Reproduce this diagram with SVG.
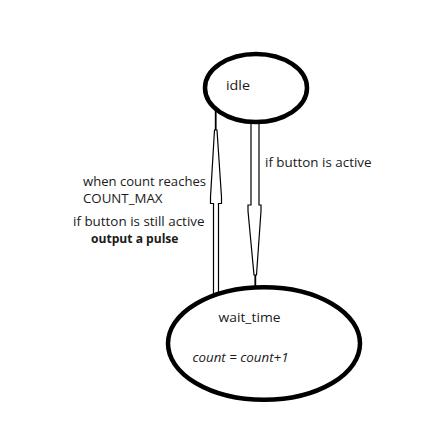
<svg xmlns="http://www.w3.org/2000/svg" width="421" height="430" viewBox="0 0 421 430">
<style>
text{font-family:"Open Sans","Noto Sans","Liberation Sans",sans-serif;font-size:13px;fill:#1a1a1a}
.state{fill:#fff;stroke:#000;stroke-width:4.5}
.block{fill:#fff;stroke:#000;stroke-width:1.2}
.tip{stroke:#000;stroke-width:1.8;fill:none}
</style>
<rect width="421" height="430" fill="#fff"/>
<g id="connectors">
<g id="wait_to_idle">
<polygon class="block" points="213.5,296 213.5,203.5 210.5,203.5 210.5,197 214.5,130 217,130 221.5,197 221.5,203.5 218.5,203.5 218.5,296"/>
<line class="tip" x1="215.7" y1="108" x2="215.7" y2="130"/>
</g>
<g id="idle_to_wait">
<polygon class="block" points="251,120 251,205 248,205 248,211 254,275 256.5,275 261,211 261,205 259,205 259,120"/>
<line class="tip" x1="255.3" y1="275" x2="255.3" y2="290"/>
</g>
<text x="83" y="185.5" textLength="123" lengthAdjust="spacingAndGlyphs">when count reaches</text>
<text x="83" y="203" textLength="79.5" lengthAdjust="spacingAndGlyphs">COUNT_MAX</text>
<text x="73" y="226" textLength="131.5" lengthAdjust="spacingAndGlyphs">if button is still active</text>
<text x="91" y="243.3" font-weight="bold" textLength="87.5" lengthAdjust="spacingAndGlyphs">output a pulse</text>
<text x="265" y="167" textLength="106.5" lengthAdjust="spacingAndGlyphs">if button is active</text>
</g>
<g id="idle">
<ellipse class="state" cx="256" cy="88" rx="51" ry="34"/>
<text x="226" y="90" textLength="24" lengthAdjust="spacingAndGlyphs">idle</text>
</g>
<g id="wait_time">
<ellipse class="state" cx="264" cy="343.5" rx="96" ry="56.3"/>
<text x="218.5" y="321.7" textLength="62" lengthAdjust="spacingAndGlyphs">wait_time</text>
<text x="192.5" y="361.7" font-style="italic" textLength="96" lengthAdjust="spacingAndGlyphs">count = count+1</text>
</g>
</svg>
